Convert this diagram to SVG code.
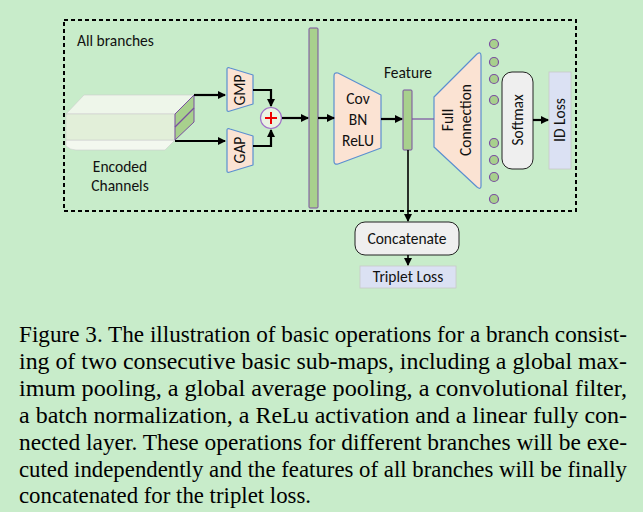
<svg xmlns="http://www.w3.org/2000/svg" width="643" height="512" viewBox="0 0 643 512">
<defs>
<marker id="ah" markerWidth="8" markerHeight="8" refX="7" refY="4" orient="auto" markerUnits="userSpaceOnUse"><path d="M0,0 L8,4 L0,8 Z" fill="#000"/></marker>
<style>
.s{font-family:Carlito,Calibri,"Open Sans",sans-serif;font-size:15.5px;fill:#111;text-anchor:middle}
.cap{font-family:"Liberation Serif",serif;font-size:23px;fill:#000}
.trap{fill:#fbe3d3;stroke:#5b8fd0;stroke-width:1.2;stroke-linejoin:round}
.ln{stroke:#000;stroke-width:2.2;fill:none}
.bar{fill:#a8d08d;stroke:#7a4fa0;stroke-width:1}
.dot{fill:#a8d08d;stroke:#7a4fa0;stroke-width:1.2}
</style>
</defs>
<rect width="643" height="512" fill="#c8ecca"/>
<rect x="64" y="20" width="512" height="191" fill="none" stroke="#000" stroke-width="2" stroke-dasharray="4,3"/>
<text class="s" x="77" y="46" style="text-anchor:start">All branches</text>
<g id="encoded">
<path d="M66,140 L66,146 Q70,150 76,150 L165,150 L175,140 Z" fill="#f3f8ef" stroke="#ccc" stroke-width="0.6"/>
<polygon points="66,114 84,95 194,95 175,114" fill="#eef6ea" stroke="#ccc" stroke-width="0.6"/>
<rect x="66" y="114" width="109" height="26" fill="#e2efd9" stroke="#ccc" stroke-width="0.6"/>
<polygon points="175,114 194,95 194,122 175,140" fill="#a8d08d" stroke="#7a4fa0" stroke-width="1"/>
<line x1="175" y1="127" x2="194" y2="108" stroke="#7a4fa0" stroke-width="1.2"/>
<text class="s" x="120" y="172">Encoded</text>
<text class="s" x="120" y="191">Channels</text>
</g>
<g id="gmp"><path class="trap" d="M227,69 Q227,67 230,68 L253,75 L253,104 L230,111 Q227,112 227,110 Z"/><text class="s" transform="translate(245,90) rotate(-90)">GMP</text></g>
<g id="gap"><path class="trap" d="M227,130 Q227,128 230,129 L253,136 L253,165 L230,172 Q227,173 227,171 Z"/><text class="s" transform="translate(245,150) rotate(-90)">GAP</text></g>
<g id="plus"><circle cx="271" cy="118" r="10.5" fill="#eaf3e2" stroke="#a070c8" stroke-width="1.2"/><path d="M265,118 H277 M271,112 V124" stroke="#e00" stroke-width="2"/></g>
<g id="bar1"><rect class="bar" x="309" y="28" width="9" height="180" rx="1"/></g>
<g id="cov"><path class="trap" d="M334,76 Q334,72 338,73 L381,95 L381,148 L338,164 Q334,165 334,161 Z"/><text class="s" x="358" y="104">Cov</text><text class="s" x="358" y="125">BN</text><text class="s" x="358" y="146">ReLU</text></g>
<g id="feature"><text class="s" x="408" y="78">Feature</text><rect class="bar" x="403" y="90" width="9" height="60" rx="1"/></g>
<g id="fc"><path class="trap" d="M434,97 L477,54 Q481,51 481,56 L481,186 Q481,190 477,187 L434,147 Z"/><text class="s" transform="translate(453,120) rotate(-90)">Full</text><text class="s" transform="translate(471,120) rotate(-90)">Connection</text></g>
<g id="dots"><circle class="dot" cx="494" cy="44" r="4.5"/><circle class="dot" cx="494" cy="62" r="4.5"/><circle class="dot" cx="494" cy="79" r="4.5"/><circle class="dot" cx="494" cy="100" r="4.5"/><circle class="dot" cx="494" cy="143" r="4.5"/><circle class="dot" cx="494" cy="160" r="4.5"/><circle class="dot" cx="494" cy="177" r="4.5"/><circle class="dot" cx="494" cy="199" r="4.5"/></g>
<g id="softmax"><rect x="502" y="72" width="31" height="97" rx="10" fill="#efefef" stroke="#222" stroke-width="1"/><text class="s" transform="translate(523,120) rotate(-90)">Softmax</text></g>
<g id="idloss"><rect x="549" y="72" width="22" height="97" fill="#dbe1f3" stroke="#c8c8c8" stroke-width="0.8"/><text class="s" transform="translate(565,120) rotate(-90)">ID Loss</text></g>
<g id="concat"><rect x="355" y="222" width="104" height="33" rx="10" fill="#efefef" stroke="#222" stroke-width="1"/><text class="s" x="407" y="244">Concatenate</text></g>
<g id="triplet"><rect x="360" y="266" width="96" height="22" fill="#dbe1f3" stroke="#c8c8c8" stroke-width="0.8"/><text class="s" x="408" y="282">Triplet Loss</text></g>
<g id="connectors">
<path class="ln" d="M194,95 H225" marker-end="url(#ah)"/>
<path class="ln" d="M175,141 H225" marker-end="url(#ah)"/>
<path class="ln" d="M253,90 H271 V106" marker-end="url(#ah)"/>
<path class="ln" d="M253,146 H271 V130" marker-end="url(#ah)"/>
<path class="ln" d="M282,118 H308" marker-end="url(#ah)"/>
<path class="ln" d="M318,118 H334" marker-end="url(#ah)"/>
<path class="ln" d="M381,119 H402" marker-end="url(#ah)"/>
<path d="M412,119 H434" stroke="#7a4fa0" stroke-width="1.2"/>
<path class="ln" d="M533,120 H548" marker-end="url(#ah)"/>
<path d="M408,150 V221" stroke="#000" stroke-width="1.6" marker-end="url(#ah)"/>
<path d="M408,255 V265" stroke="#000" stroke-width="1.6" marker-end="url(#ah)"/>
</g>
<g class="cap">
<text x="19" y="342" textLength="608" lengthAdjust="spacingAndGlyphs">Figure 3. The illustration of basic operations for a branch consist-</text>
<text x="19" y="369" textLength="608" lengthAdjust="spacingAndGlyphs">ing of two consecutive basic sub-maps, including a global max-</text>
<text x="19" y="396" textLength="608" lengthAdjust="spacingAndGlyphs">imum pooling, a global average pooling, a convolutional filter,</text>
<text x="19" y="423" textLength="608" lengthAdjust="spacingAndGlyphs">a batch normalization, a ReLu activation and a linear fully con-</text>
<text x="19" y="450" textLength="608" lengthAdjust="spacingAndGlyphs">nected layer. These operations for different branches will be exe-</text>
<text x="19" y="477" textLength="608" lengthAdjust="spacingAndGlyphs">cuted independently and the features of all branches will be finally</text>
<text x="19" y="503" textLength="292" lengthAdjust="spacingAndGlyphs">concatenated for the triplet loss.</text>
</g>
</svg>
